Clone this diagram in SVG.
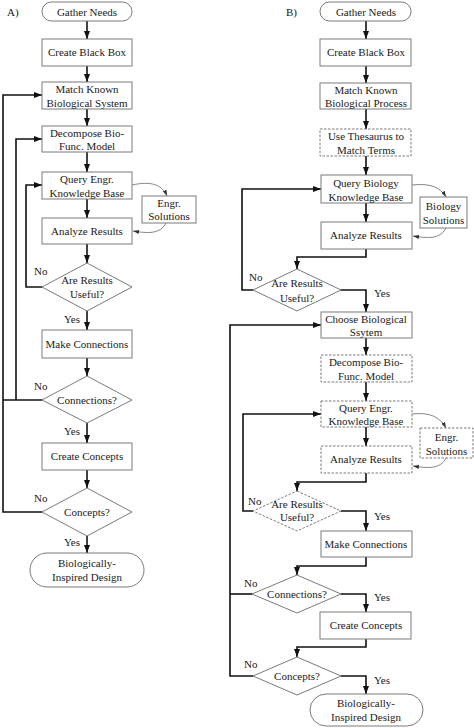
<svg xmlns="http://www.w3.org/2000/svg" width="474" height="728" viewBox="0 0 474 728">
<style>
.b{fill:#fff;stroke:#7a7a7a;stroke-width:1}
.d{fill:#fff;stroke:#7a7a7a;stroke-width:1;stroke-dasharray:2.5,1.5}
.t{font-family:"Liberation Serif","Times New Roman",serif;font-size:11px;fill:#1a1a1a;text-anchor:middle}
.l{font-family:"Liberation Serif","Times New Roman",serif;font-size:11px;fill:#1a1a1a}
.c{fill:none;stroke:#111;stroke-width:1.6}
.s{fill:none;stroke:#666;stroke-width:0.8}
</style>
<defs>
<marker id="ah" markerWidth="8" markerHeight="6" refX="8" refY="3" orient="auto" markerUnits="userSpaceOnUse"><path d="M0,0 L8,3 L0,6 z" fill="#111"/></marker>
<marker id="sh" markerWidth="6" markerHeight="4" refX="6" refY="2" orient="auto" markerUnits="userSpaceOnUse"><path d="M0,0 L6,2 L0,4 z" fill="#333"/></marker>
</defs>
<text class="l" x="7" y="16">A)</text>
<text class="l" x="286" y="16">B)</text>
<g id="connectors">
<path class="c" d="M87,21 V39" marker-end="url(#ah)"/>
<path class="c" d="M87,66 V82" marker-end="url(#ah)"/>
<path class="c" d="M87,109 V126" marker-end="url(#ah)"/>
<path class="c" d="M87,152 V172" marker-end="url(#ah)"/>
<path class="c" d="M87,199 V218" marker-end="url(#ah)"/>
<path class="c" d="M87,244 V263" marker-end="url(#ah)"/>
<path class="c" d="M87,311 V330" marker-end="url(#ah)"/>
<path class="c" d="M87,358 V376" marker-end="url(#ah)"/>
<path class="c" d="M87,423 V443" marker-end="url(#ah)"/>
<path class="c" d="M87,470 V488" marker-end="url(#ah)"/>
<path class="c" d="M87,536 V553" marker-end="url(#ah)"/>
<path class="c" d="M42,287 H26 V185 H42" marker-end="url(#ah)"/>
<path class="c" d="M42,400 H3"/>
<path class="c" d="M16,400 V139 H42" marker-end="url(#ah)"/>
<path class="c" d="M42,512 H3 V95 H42" marker-end="url(#ah)"/>
<path class="s" d="M132,185 C150,181 162,184 167,196" marker-end="url(#sh)"/>
<path class="s" d="M166,223 C160,235 146,233 133,231" marker-end="url(#sh)"/>
<path class="c" d="M366,21 V39" marker-end="url(#ah)"/>
<path class="c" d="M366,66 V83" marker-end="url(#ah)"/>
<path class="c" d="M366,109 V129" marker-end="url(#ah)"/>
<path class="c" d="M366,156 V175" marker-end="url(#ah)"/>
<path class="c" d="M366,203 V222" marker-end="url(#ah)"/>
<path class="c" d="M366,249 V257 H297 V269" marker-end="url(#ah)"/>
<path class="c" d="M341,290 H366 V312" marker-end="url(#ah)"/>
<path class="c" d="M253,290 H242 V189 H321" marker-end="url(#ah)"/>
<path class="c" d="M253,676 H230 V325 H321" marker-end="url(#ah)"/>
<path class="c" d="M252,594 H230"/>
<path class="c" d="M366,338 V355" marker-end="url(#ah)"/>
<path class="c" d="M366,382 V401" marker-end="url(#ah)"/>
<path class="c" d="M366,427 V446" marker-end="url(#ah)"/>
<path class="c" d="M366,473 V482 H297 V491" marker-end="url(#ah)"/>
<path class="c" d="M341,511 H366 V531" marker-end="url(#ah)"/>
<path class="c" d="M253,511 H243 V414 H321" marker-end="url(#ah)"/>
<path class="c" d="M366,557 V566 H297 V575" marker-end="url(#ah)"/>
<path class="c" d="M341,594 H366 V612" marker-end="url(#ah)"/>
<path class="c" d="M366,639 V647 H297 V657" marker-end="url(#ah)"/>
<path class="c" d="M341,676 H366 V694" marker-end="url(#ah)"/>
<path class="s" d="M412,185 C430,183 440,187 446,197" marker-end="url(#sh)"/>
<path class="s" d="M446,228 C440,240 426,238 413,236" marker-end="url(#sh)"/>
<path class="s" d="M412,414 C430,412 440,417 446,428" marker-end="url(#sh)"/>
<path class="s" d="M446,458 C440,470 426,468 413,466" marker-end="url(#sh)"/>
<text class="l" x="34" y="275">No</text>
<text class="l" x="34" y="390">No</text>
<text class="l" x="34" y="502">No</text>
<text class="t" x="72" y="323">Yes</text>
<text class="t" x="72" y="435">Yes</text>
<text class="t" x="72" y="546">Yes</text>
<text class="l" x="249" y="281">No</text>
<text class="l" x="248" y="505">No</text>
<text class="l" x="244" y="587">No</text>
<text class="l" x="244" y="668">No</text>
<text class="l" x="374" y="297">Yes</text>
<text class="l" x="374" y="520">Yes</text>
<text class="l" x="374" y="601">Yes</text>
<text class="l" x="374" y="684">Yes</text>
</g>
<g id="a-gather"><rect class="b" x="42" y="2" width="90" height="19" rx="9.5"/><text class="t" x="87" y="15.5">Gather Needs</text></g>
<g id="a-blackbox"><rect class="b" x="42" y="39" width="90" height="27"/><text class="t" x="87" y="56">Create Black Box</text></g>
<g id="a-match"><rect class="b" x="42" y="82" width="90" height="27"/><text class="t" x="87" y="93">Match Known</text><text class="t" x="87" y="106.5">Biological System</text></g>
<g id="a-decompose"><rect class="b" x="42" y="126" width="90" height="26"/><text class="t" x="87" y="137">Decompose Bio-</text><text class="t" x="87" y="150">Func. Model</text></g>
<g id="a-query"><rect class="b" x="42" y="172" width="90" height="27"/><text class="t" x="87" y="183">Query Engr.</text><text class="t" x="87" y="196.5">Knowledge Base</text></g>
<g id="a-engr"><rect class="b" x="142" y="196" width="54" height="27"/><text class="t" x="169" y="207">Engr.</text><text class="t" x="169" y="220">Solutions</text></g>
<g id="a-analyze"><rect class="b" x="42" y="218" width="90" height="26"/><text class="t" x="87" y="235">Analyze Results</text></g>
<g id="a-useful"><polygon class="b" points="87,263 132,287 87,311 42,287"/><text class="t" x="87" y="284">Are Results</text><text class="t" x="87" y="298">Useful?</text></g>
<g id="a-make"><rect class="b" x="42" y="330" width="90" height="28"/><text class="t" x="87" y="348">Make Connections</text></g>
<g id="a-connections"><polygon class="b" points="87,376 132,400 87,423 42,400"/><text class="t" x="87" y="404">Connections?</text></g>
<g id="a-create"><rect class="b" x="42" y="443" width="90" height="27"/><text class="t" x="87" y="460">Create Concepts</text></g>
<g id="a-concepts"><polygon class="b" points="87,488 132,512 87,536 42,512"/><text class="t" x="87" y="516">Concepts?</text></g>
<g id="a-design"><rect class="b" x="30" y="553" width="114" height="34" rx="17"/><text class="t" x="87" y="567">Biologically-</text><text class="t" x="87" y="581">Inspired Design</text></g>
<g id="b-gather"><rect class="b" x="320" y="2" width="91" height="19" rx="9.5"/><text class="t" x="366" y="15.5">Gather Needs</text></g>
<g id="b-blackbox"><rect class="b" x="320" y="39" width="91" height="27"/><text class="t" x="366" y="56">Create Black Box</text></g>
<g id="b-match"><rect class="b" x="320" y="83" width="91" height="26"/><text class="t" x="366" y="94">Match Known</text><text class="t" x="366" y="107">Biological Process</text></g>
<g id="b-thesaurus"><rect class="d" x="320" y="129" width="91" height="27"/><text class="t" x="366" y="140">Use Thesaurus to</text><text class="t" x="366" y="153.5">Match Terms</text></g>
<g id="b-query"><rect class="b" x="321" y="175" width="91" height="28"/><text class="t" x="366" y="187">Query Biology</text><text class="t" x="366" y="200.5">Knowledge Base</text></g>
<g id="b-biosol"><rect class="b" x="420" y="197" width="47" height="31"/><text class="t" x="443.5" y="210">Biology</text><text class="t" x="443.5" y="224">Solutions</text></g>
<g id="b-analyze"><rect class="b" x="321" y="222" width="91" height="27"/><text class="t" x="366" y="239">Analyze Results</text></g>
<g id="b-useful"><polygon class="b" points="297,269 341,290 297,311 253,290"/><text class="t" x="297" y="287">Are Results</text><text class="t" x="297" y="302">Useful?</text></g>
<g id="b-choose"><rect class="b" x="321" y="312" width="91" height="26"/><text class="t" x="366" y="323">Choose Biological</text><text class="t" x="366" y="336">Ssytem</text></g>
<g id="b-decompose"><rect class="d" x="321" y="355" width="91" height="27"/><text class="t" x="366" y="366">Decompose Bio-</text><text class="t" x="366" y="379.5">Func. Model</text></g>
<g id="b-query2"><rect class="d" x="321" y="401" width="91" height="26"/><text class="t" x="366" y="412">Query Engr.</text><text class="t" x="366" y="425">Knowledge Base</text></g>
<g id="b-engr"><rect class="d" x="420" y="428" width="53" height="30"/><text class="t" x="446.5" y="441">Engr.</text><text class="t" x="446.5" y="455">Solutions</text></g>
<g id="b-analyze2"><rect class="d" x="321" y="446" width="91" height="27"/><text class="t" x="366" y="463">Analyze Results</text></g>
<g id="b-useful2"><polygon class="d" points="297,491 341,511 297,531 253,511"/><text class="t" x="297" y="508">Are Results</text><text class="t" x="297" y="521">Useful?</text></g>
<g id="b-make"><rect class="b" x="321" y="531" width="91" height="26"/><text class="t" x="366" y="548">Make Connections</text></g>
<g id="b-connections"><polygon class="b" points="297,575 341,594 297,613 252,594"/><text class="t" x="297" y="598">Connections?</text></g>
<g id="b-create"><rect class="b" x="320" y="612" width="91" height="27"/><text class="t" x="366" y="629">Create Concepts</text></g>
<g id="b-concepts"><polygon class="b" points="297,657 341,676 297,695 253,676"/><text class="t" x="297" y="680">Concepts?</text></g>
<g id="b-design"><rect class="b" x="310" y="694" width="113" height="32" rx="16"/><text class="t" x="366" y="707">Biologically-</text><text class="t" x="366" y="721">Inspired Design</text></g>
</svg>
